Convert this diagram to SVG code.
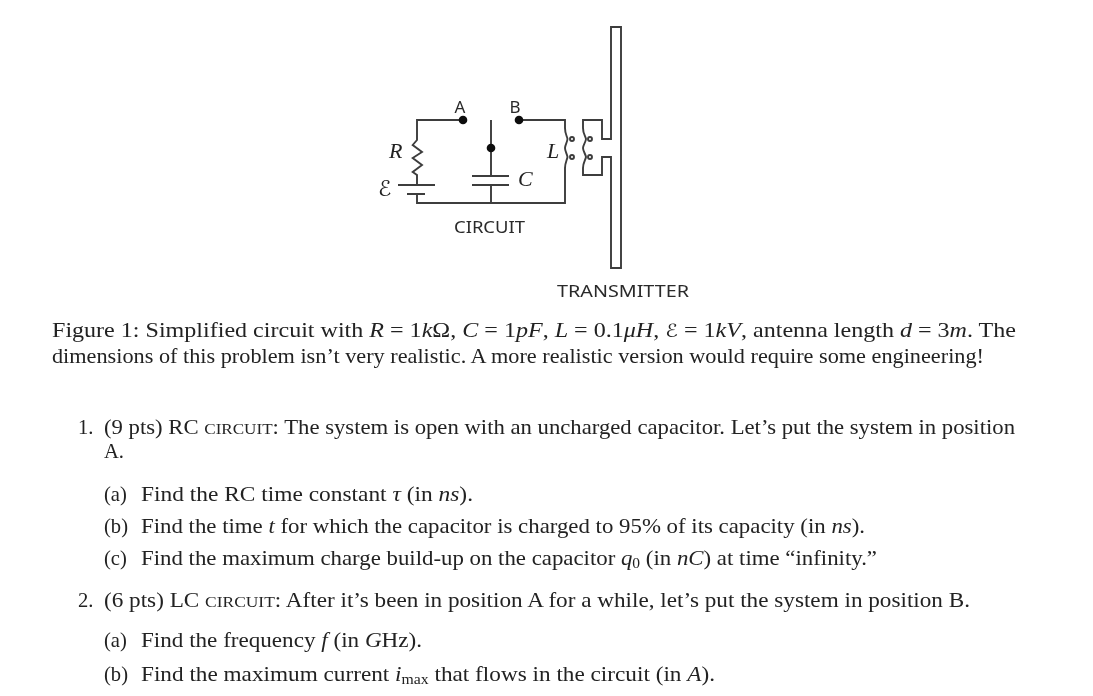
<svg xmlns="http://www.w3.org/2000/svg" width="1093" height="696" viewBox="0 0 1093 696">
<style>
.w{fill:none;stroke:#3c3c3c;stroke-width:1.9}
.d{fill:#111}
.s{font-family:"Noto Sans","DejaVu Sans",sans-serif;font-size:17px;fill:#2a2a2a}
.t{font-family:"Liberation Serif",serif;font-size:20.6px;fill:#222}
.m{font-family:"Liberation Serif",serif;font-style:italic;fill:#222}
.c{font-size:15.5px}
.b{font-family:"Liberation Serif",serif;font-style:italic;font-size:22px;fill:#222}
.e{font-family:"DejaVu Sans",sans-serif;font-size:22px;fill:#222}
.i{font-family:"DejaVu Sans",sans-serif;font-size:18px}
.sub{font-size:14px}
</style>
<defs><filter id="soft" x="-2%" y="-2%" width="104%" height="104%"><feGaussianBlur stdDeviation="0.35"/></filter></defs>
<rect width="1093" height="696" fill="#fff"/>
<g filter="url(#soft)">
<g id="connectors">
<path class="w" d="M463 120H417V140L412.7 145L422 152L412.7 158L422 165L412.7 172L417 175V185M398 185H435M407 194H425M417 194V203H565V176"/>
<path class="w" d="M519 120H565V128C565 134 567 136 567.5 139C567 143 565 145 565 148C565 151 567 154 567.5 157C567 160 565 163 565 168V176"/>
<path class="w" d="M491 120V176M472 176H509M472 185H509M491 185V203"/>
<path class="w" d="M583 128V120H602V139H611V27H621V268H611V157H602V175H583V168C583 163 585.500 160 586 157C585.500 154 583 151 583 148C583 145 585.500 143 586 139C585.500 136 583 134 583 128"/>
<circle class="w" cx="572" cy="139" r="2"/><circle class="w" cx="572" cy="157" r="2"/>
<circle class="w" cx="590" cy="139" r="2"/><circle class="w" cx="590" cy="157" r="2"/>
</g>
<g id="node-a"><circle class="d" cx="463" cy="120" r="4.300"/><text class="s" x="460" y="112.500" text-anchor="middle">A</text></g>
<g id="node-b"><circle class="d" cx="519" cy="120" r="4.300"/><text class="s" x="515" y="112.500" text-anchor="middle">B</text></g>
<g id="node-switch"><circle class="d" cx="491" cy="148" r="4.300"/></g>
<g id="labels">
<text class="b" x="389" y="158">R</text>
<text class="e" x="378" y="196">ℰ</text>
<text class="b" x="518" y="186">C</text>
<text class="b" x="547" y="158">L</text>
<text class="s" x="454" y="232.500" textLength="71" lengthAdjust="spacingAndGlyphs">CIRCUIT</text>
<text class="s" x="557" y="297" textLength="132" lengthAdjust="spacingAndGlyphs">TRANSMITTER</text>
</g>
<g id="text">
<text class="t" x="52" y="336.500" textLength="964" lengthAdjust="spacingAndGlyphs">Figure 1: Simplified circuit with <tspan class="m">R</tspan> = 1<tspan class="m">k</tspan>Ω, <tspan class="m">C</tspan> = 1<tspan class="m">pF</tspan>, <tspan class="m">L</tspan> = 0.1<tspan class="m">μH</tspan>, <tspan class="i">ℰ</tspan> = 1<tspan class="m">kV</tspan>, antenna length <tspan class="m">d</tspan> = 3<tspan class="m">m</tspan>. The</text>
<text class="t" x="52" y="362.500" textLength="932" lengthAdjust="spacingAndGlyphs">dimensions of this problem isn’t very realistic. A more realistic version would require some engineering!</text>
<text class="t" x="78" y="434">1.</text>
<text class="t" x="104" y="434" textLength="911" lengthAdjust="spacingAndGlyphs">(9 pts) RC <tspan class="c">CIRCUIT</tspan>: The system is open with an uncharged capacitor. Let’s put the system in position</text>
<text class="t" x="104" y="458">A.</text>
<text class="t" x="104" y="500.500">(a)</text>
<text class="t" x="141" y="500.500" textLength="332" lengthAdjust="spacingAndGlyphs">Find the RC time constant <tspan class="m">τ</tspan> (in <tspan class="m">ns</tspan>).</text>
<text class="t" x="104" y="532.500">(b)</text>
<text class="t" x="141" y="532.500" textLength="724" lengthAdjust="spacingAndGlyphs">Find the time <tspan class="m">t</tspan> for which the capacitor is charged to 95% of its capacity (in <tspan class="m">ns</tspan>).</text>
<text class="t" x="104" y="564.500">(c)</text>
<text class="t" x="141" y="564.500" textLength="736" lengthAdjust="spacingAndGlyphs">Find the maximum charge build-up on the capacitor <tspan class="m">q</tspan><tspan class="sub" dy="3">0</tspan><tspan dy="-3"> (in </tspan><tspan class="m">nC</tspan>) at time “infinity.”</text>
<text class="t" x="78" y="606.500">2.</text>
<text class="t" x="104" y="606.500" textLength="866" lengthAdjust="spacingAndGlyphs">(6 pts) LC <tspan class="c">CIRCUIT</tspan>: After it’s been in position A for a while, let’s put the system in position B.</text>
<text class="t" x="104" y="646.500">(a)</text>
<text class="t" x="141" y="646.500" textLength="281" lengthAdjust="spacingAndGlyphs">Find the frequency <tspan class="m">f</tspan> (in <tspan class="m">G</tspan>Hz).</text>
<text class="t" x="104" y="680.500">(b)</text>
<text class="t" x="141" y="680.500" textLength="574" lengthAdjust="spacingAndGlyphs">Find the maximum current <tspan class="m">i</tspan><tspan class="sub" dy="3">max</tspan><tspan dy="-3"> that flows in the circuit (in </tspan><tspan class="m">A</tspan>).</text>
</g>
</g>
</svg>
